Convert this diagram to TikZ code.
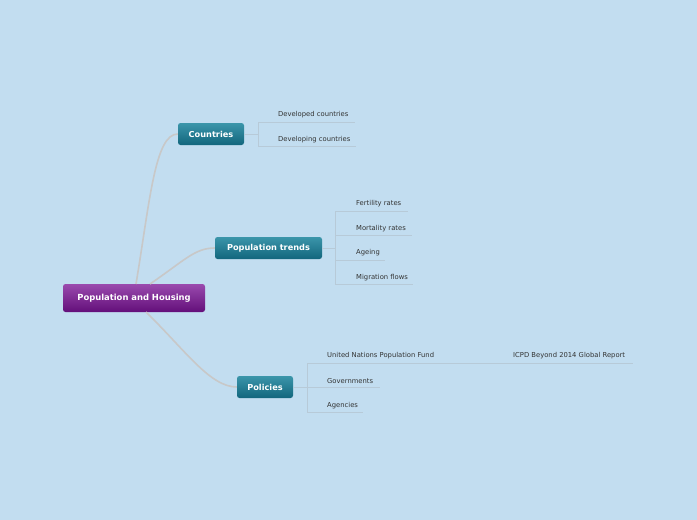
\documentclass[tikz,border=0pt]{standalone}
\usepackage{fontspec}
\setmainfont{DejaVu Sans}
\definecolor{bg}{HTML}{C2DDF0}
\definecolor{tealA}{HTML}{3B95AA}
\definecolor{tealB}{HTML}{12667D}
\definecolor{purA}{HTML}{9A4AAE}
\definecolor{purB}{HTML}{630F7A}
\definecolor{ln}{HTML}{C8C8C8}
\definecolor{lf}{HTML}{B7CAD8}
\definecolor{tx}{HTML}{333333}
\tikzset{
 topic/.style={rounded corners=2.5pt,top color=tealA,bottom color=tealB,text=white,font=\bfseries\fontsize{8.2}{9}\selectfont,inner sep=0pt,minimum height=22pt},
 rootbox/.style={rounded corners=2.5pt,top color=purA,bottom color=purB,text=white,font=\bfseries\fontsize{8.4}{9}\selectfont,inner sep=0pt,minimum height=28pt,minimum width=142pt},
 leaf/.style={anchor=west,text=tx,font=\fontsize{6.8}{8}\selectfont,inner sep=0pt},
 main/.style={draw=ln,line width=1.6pt},
 sub/.style={draw=lf,line width=0.7pt}
}
\begin{document}
\begin{tikzpicture}[x=1pt,y=-1pt]
\fill[bg] (0,0) rectangle (697,520);
\useasboundingbox (0,0) rectangle (697,520);
\coordinate (r1) at (136,284);
\coordinate (r2) at (150,284);
\coordinate (r3) at (146,312);
\node[rootbox] (root) at (134,298) {Population and Housing};
\node[topic,minimum width=66pt] (c) at (211,134) {Countries};
\node[topic,minimum width=107pt] (p) at (268.5,248) {Population trends};
\node[topic,minimum width=56pt] (q) at (265,387) {Policies};
\draw[main] (r1) .. controls (150,200) and (155,134) .. (c.west);
\draw[main] (r2) .. controls (185,260) and (195,248) .. (p.west);
\draw[main] (r3) .. controls (185,350) and (210,387) .. (q.west);
% Countries leaves
\coordinate (cb) at (258,134);
\draw[sub] (c.east) -- (cb);
\draw[sub] (258,122) -- (258,146);
\node[leaf] (c1) at (278,115) {Developed countries};
\node[leaf] (c2) at (278,140) {Developing countries};
\draw[sub] (258,122) -- (355,122);
\draw[sub] (258,146) -- (356,146);
% Population trends leaves
\draw[sub] (p.east) -- (335,248);
\draw[sub] (335,211) -- (335,284);
\node[leaf] (p1) at (356,204) {Fertility rates};
\node[leaf] (p2) at (356,229) {Mortality rates};
\node[leaf] (p3) at (356,253) {Ageing};
\node[leaf] (p4) at (356,278) {Migration flows};
\draw[sub] (335,211) -- (408,211);
\draw[sub] (335,235) -- (412,235);
\draw[sub] (335,260) -- (385,260);
\draw[sub] (335,284) -- (413,284);
% Policies leaves
\draw[sub] (q.east) -- (307,387);
\draw[sub] (307,363) -- (307,412);
\node[leaf] (q1) at (327,356) {United Nations Population Fund};
\node[leaf] (q11) at (513,356) {ICPD Beyond 2014 Global Report};
\node[leaf] (q2) at (327,381) {Governments};
\node[leaf] (q3) at (327,406) {Agencies};
\draw[sub] (307,363) -- (633,363);
\draw[sub] (307,387) -- (380,387);
\draw[sub] (307,412) -- (363,412);
\end{tikzpicture}
\end{document}
